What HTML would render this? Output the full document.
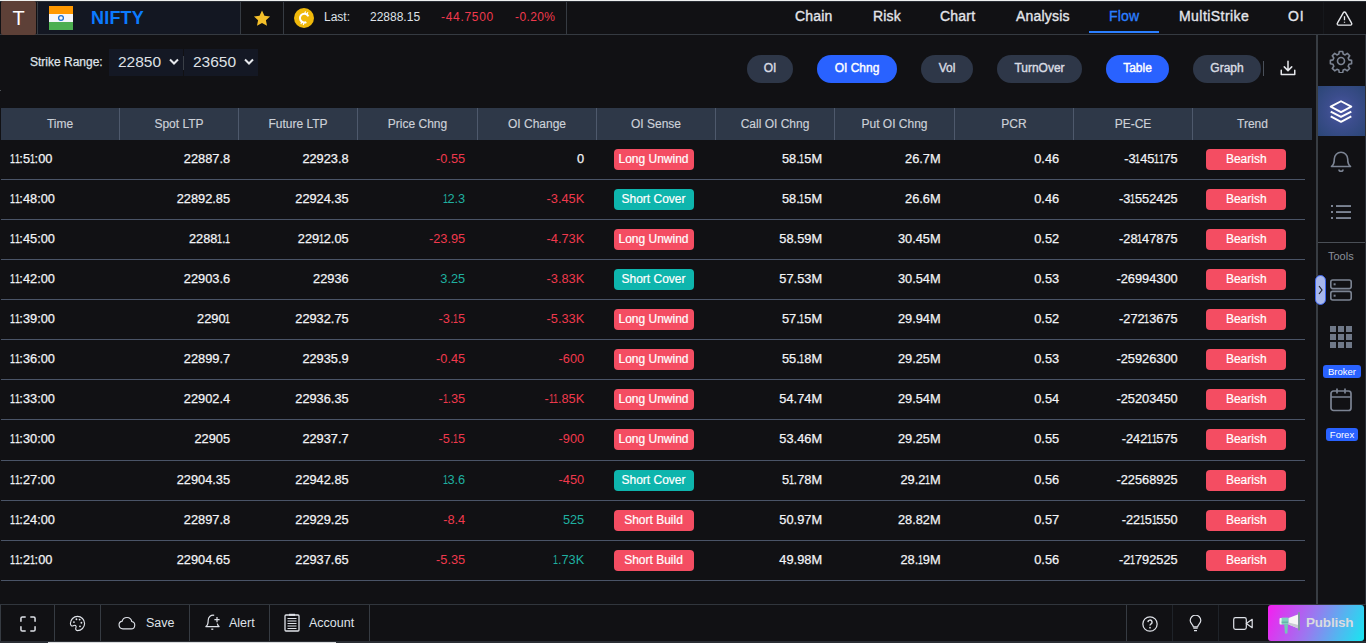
<!DOCTYPE html>
<html><head><meta charset="utf-8">
<style>
*{box-sizing:border-box;margin:0;padding:0}
html,body{width:1366px;height:643px;overflow:hidden;background:#111114;font-family:"Liberation Sans",sans-serif;color:#e1e3e8}
.a{position:absolute}
/* header */
#topline{left:0;top:0;width:1366px;height:1px;background:#eef0ef}
#hdr{left:0;top:1px;width:1366px;height:34px;background:#111114;border-top:1px solid #2a2e35;border-bottom:1px solid #353a41}
.hb{position:absolute;top:1px;height:32px}
#tbox{left:1px;top:0px;width:35px;height:34px;background:#5d4037;border-radius:2px;color:#fff;font-size:20px;text-align:center;line-height:34px}
.vd{position:absolute;width:1px;background:#363b42}
#nifty{left:38px;width:202px;background:#131722}
#flag{left:49px;top:6px;width:24px;height:24px}
#niftyt{left:91px;top:8px;font-size:18px;font-weight:700;color:#0b7bff;letter-spacing:0.2px}
#star{left:241px;width:42px;background:#111114}
#last{left:284px;width:282px;background:#111114}
.lt{position:absolute;top:10px;font-size:12px;line-height:14px}
.nav{position:absolute;top:7.5px;font-size:14px;font-weight:400;color:#e3e5ea;line-height:16px;-webkit-text-stroke:0.35px currentColor;letter-spacing:0.2px}
#flowul{left:1089px;top:31px;width:70px;height:2px;background:#2b7fff}
/* strike */
.sel{position:absolute;top:49px;height:27px;background:#141824}
.selt{position:absolute;top:54px;font-size:15.5px;color:#dfe1e6;line-height:16px}
/* pills */
.pill{position:absolute;top:55px;height:28px;border-radius:14px;background:#2e3748;color:#d8dbe2;font-size:12px;font-weight:400;text-align:center;line-height:27px;-webkit-text-stroke:0.4px currentColor}
.pill.on{background:#2962ff;color:#fff}
/* table */
#thead{left:1px;top:108px;width:1311px;height:32px;background:#2e3848}
.th{position:absolute;top:0;height:32px;line-height:32px;text-align:center;font-size:12px;color:#cdd1d8;border-right:1px solid #4e596c;-webkit-text-stroke:0.15px currentColor}
.row{position:absolute;left:1px;width:1304px;border-bottom:1px solid #4a5467}
.c{position:absolute;top:0;width:118.55px;height:100%;text-align:right;padding-right:9px;font-size:12.8px;line-height:38px;color:#f2f3f6;-webkit-text-stroke:0.25px currentColor}
.c i{font-style:normal;display:inline-block;margin:0 -1.3px;transform:scaleX(0.7)}
.c.p{padding-right:9.8px}
.c.tl{text-align:left;padding-left:8.3px;padding-right:0}
.c.r{color:#f0394d;-webkit-text-stroke:0}
.c.g{color:#1fb0a0;-webkit-text-stroke:0}
.c.bc{text-align:center;padding:0}
.bdg{position:absolute;left:50%;margin-left:-40.5px;top:9px;width:80px;height:21px;line-height:21px;border-radius:4px;font-size:12px;color:#fff;text-align:center;-webkit-text-stroke:0.2px #fff}
.bg-r{background:#f44d62}
.bg-g{background:#0eb5ad}
/* sidebar */
#sb{left:1316px;top:35px;width:50px;height:569px;border-left:2px solid #383d43;background:#111114}
.sic{position:absolute}
/* bottom */
#bot{left:0;top:604px;width:1366px;height:39px;border-top:1px solid #31363d;background:#111114}
.bb{position:absolute;top:605px;height:36px;background:#111114}
.bt{position:absolute;top:614.5px;font-size:12.5px;color:#dfe2e8;line-height:16px}
#pub{left:1268px;top:605px;width:96px;height:36px;border-radius:3px;background:linear-gradient(112deg,#f51ef0 0%,#9a78f0 45%,#50b8f0 75%,#18e6f0 100%)}
</style></head><body>
<div id="topline" class="a"></div>
<div class="a" style="left:0;top:90px;width:1px;height:1px;background:#505358"></div>
<div id="hdr" class="a"></div>
<div id="tbox" class="a" style="top:1px">T</div>
<div class="vd" style="left:37px;top:2px;height:32px"></div>
<div id="nifty" class="hb" style="top:2px"></div>
<svg id="flag" class="a" viewBox="0 0 24 24"><rect x="0" y="0" width="24" height="8" fill="#ff9800"/><rect x="0" y="8" width="24" height="8" fill="#f5f6fa"/><rect x="0" y="16" width="24" height="8" fill="#4caf50"/><circle cx="12" cy="12" r="2.4" fill="none" stroke="#1e6fd0" stroke-width="1.3"/></svg>
<div id="niftyt" class="a">NIFTY</div>
<div class="vd" style="left:240px;top:2px;height:32px"></div>
<svg class="a" style="left:253px;top:10px" width="18" height="17" viewBox="0 0 24 23"><path d="M12 0.8l3.3 7 7.6.9-5.6 5.2 1.5 7.5L12 17.6l-6.8 3.8 1.5-7.5L1.1 8.7l7.6-.9z" fill="#f5c02a"/></svg>
<div class="vd" style="left:283px;top:2px;height:32px"></div>
<svg class="a" style="left:294px;top:8px" width="20" height="20" viewBox="0 0 20 20"><circle cx="10" cy="10" r="10" fill="#f0b90b"/><g transform="rotate(20 10 10)"><path d="M13.6 7a4.4 4.4 0 1 0 0 6" fill="none" stroke="#fff" stroke-width="2"/><path d="M9.2 3.2v2.6M11.6 3.2v2.6M9.2 14.2v2.6M11.6 14.2v2.6" stroke="#fff" stroke-width="1.2"/></g></svg>
<div class="lt" style="left:324px;color:#dfe2e8">Last:</div>
<div class="lt" style="left:370px;color:#dfe2e8">22888.15</div>
<div class="lt" style="left:441px;color:#f0394d;letter-spacing:0.7px">-44.7500</div>
<div class="lt" style="left:515px;color:#f0394d;letter-spacing:0.4px">-0.20%</div>
<div class="vd" style="left:566px;top:2px;height:32px"></div>
<div class="nav" style="left:795px">Chain</div>
<div class="nav" style="left:873px">Risk</div>
<div class="nav" style="left:940px">Chart</div>
<div class="nav" style="left:1016px">Analysis</div>
<div class="nav" style="left:1109px;color:#2b7fff">Flow</div>
<div class="nav" style="left:1179px;letter-spacing:0.45px">MultiStrike</div>
<div class="nav" style="left:1288px;letter-spacing:0.9px">OI</div>
<div id="flowul" class="a"></div>
<div class="vd" style="left:1323px;top:2px;height:32px;background:#16181c"></div>
<svg class="a" style="left:1336px;top:10px" width="17" height="17" viewBox="0 0 17 17"><path d="M7.4 2.6a1.25 1.25 0 0 1 2.2 0l6 10.6a1.25 1.25 0 0 1-1.1 1.9h-12a1.25 1.25 0 0 1-1.1-1.9z" fill="none" stroke="#e6e8ec" stroke-width="1.4" stroke-linejoin="round"/><path d="M8.5 6.3v4M8.5 11.8v1" stroke="#e6e8ec" stroke-width="1.3"/></svg>

<!-- strike range -->
<div class="a" style="left:30px;top:55px;font-size:12px;color:#dfe2e8;line-height:14px;-webkit-text-stroke:0.25px currentColor">Strike Range:</div>
<div class="sel" style="left:109px;width:74px"></div>
<div class="selt" style="left:118px">22850</div>
<svg class="a" style="left:169px;top:58px" width="10" height="8" viewBox="0 0 10 8"><path d="M1 1.5l4 4 4-4" fill="none" stroke="#e6e8ec" stroke-width="2"/></svg>
<div class="a" style="left:183px;top:56px;width:1px;height:14px;background:#3a3f47"></div>
<div class="sel" style="left:184px;width:74px"></div>
<div class="selt" style="left:193px">23650</div>
<svg class="a" style="left:244px;top:58px" width="10" height="8" viewBox="0 0 10 8"><path d="M1 1.5l4 4 4-4" fill="none" stroke="#e6e8ec" stroke-width="2"/></svg>

<!-- pills -->
<div class="pill" style="left:747px;width:46px">OI</div>
<div class="pill on" style="left:817px;width:80px">OI Chng</div>
<div class="pill" style="left:921px;width:52px">Vol</div>
<div class="pill" style="left:997px;width:85px">TurnOver</div>
<div class="pill on" style="left:1106px;width:63px">Table</div>
<div class="pill" style="left:1193px;width:68px">Graph</div>
<div class="a" style="left:1263px;top:61px;width:1px;height:15px;background:#4a505a"></div>
<svg class="a" style="left:1279px;top:59px" width="18" height="18" viewBox="0 0 24 24"><path d="M12 3v12M7 10.5l5 5 5-5M3 15v5.5h18V15" fill="none" stroke="#e6e8ec" stroke-width="2" stroke-linecap="round" stroke-linejoin="round"/></svg>

<!-- table header -->
<div id="thead" class="a">
<div class="th" style="left:0;width:119px">Time</div>
<div class="th" style="left:119px;width:119px">Spot LTP</div>
<div class="th" style="left:238px;width:119px">Future LTP</div>
<div class="th" style="left:357px;width:120px">Price Chng</div>
<div class="th" style="left:477px;width:119px">OI Change</div>
<div class="th" style="left:596px;width:119px">OI Sense</div>
<div class="th" style="left:715px;width:119px">Call OI Chng</div>
<div class="th" style="left:834px;width:120px">Put OI Chng</div>
<div class="th" style="left:954px;width:119px">PCR</div>
<div class="th" style="left:1073px;width:119px">PE-CE</div>
<div class="th" style="left:1192px;width:119px;border-right:0">Trend</div>
</div>
<div class="row" style="top:140px;height:40px"><div class="c tl" style="left:1px"><i>1</i><i>1</i>:5<i>1</i>:00</div><div class="c " style="left:119.55px">22887.8</div><div class="c " style="left:238.10px">22923.8</div><div class="c r" style="left:354.65px">-0.55</div><div class="c w" style="left:473.70px">0</div><div class="c bc" style="left:593.75px"><span class="bdg bg-r">Long Unwind</span></div><div class="c p" style="left:712.30px">58.<i>1</i>5M</div><div class="c p" style="left:830.85px">26.7M</div><div class="c p" style="left:949.40px">0.46</div><div class="c p" style="left:1067.95px">-3<i>1</i>45<i>1</i><i>1</i>75</div><div class="c bc" style="left:1186.50px"><span class="bdg bg-r">Bearish</span></div></div>
<div class="row" style="top:180px;height:40px"><div class="c tl" style="left:1px"><i>1</i><i>1</i>:48:00</div><div class="c " style="left:119.55px">22892.85</div><div class="c " style="left:238.10px">22924.35</div><div class="c g" style="left:354.65px"><i>1</i>2.3</div><div class="c r" style="left:473.70px">-3.45K</div><div class="c bc" style="left:593.75px"><span class="bdg bg-g">Short Cover</span></div><div class="c p" style="left:712.30px">58.<i>1</i>5M</div><div class="c p" style="left:830.85px">26.6M</div><div class="c p" style="left:949.40px">0.46</div><div class="c p" style="left:1067.95px">-3<i>1</i>552425</div><div class="c bc" style="left:1186.50px"><span class="bdg bg-r">Bearish</span></div></div>
<div class="row" style="top:220px;height:40px"><div class="c tl" style="left:1px"><i>1</i><i>1</i>:45:00</div><div class="c " style="left:119.55px">2288<i>1</i>.<i>1</i></div><div class="c " style="left:238.10px">229<i>1</i>2.05</div><div class="c r" style="left:354.65px">-23.95</div><div class="c r" style="left:473.70px">-4.73K</div><div class="c bc" style="left:593.75px"><span class="bdg bg-r">Long Unwind</span></div><div class="c p" style="left:712.30px">58.59M</div><div class="c p" style="left:830.85px">30.45M</div><div class="c p" style="left:949.40px">0.52</div><div class="c p" style="left:1067.95px">-28<i>1</i>47875</div><div class="c bc" style="left:1186.50px"><span class="bdg bg-r">Bearish</span></div></div>
<div class="row" style="top:260px;height:40px"><div class="c tl" style="left:1px"><i>1</i><i>1</i>:42:00</div><div class="c " style="left:119.55px">22903.6</div><div class="c " style="left:238.10px">22936</div><div class="c g" style="left:354.65px">3.25</div><div class="c r" style="left:473.70px">-3.83K</div><div class="c bc" style="left:593.75px"><span class="bdg bg-g">Short Cover</span></div><div class="c p" style="left:712.30px">57.53M</div><div class="c p" style="left:830.85px">30.54M</div><div class="c p" style="left:949.40px">0.53</div><div class="c p" style="left:1067.95px">-26994300</div><div class="c bc" style="left:1186.50px"><span class="bdg bg-r">Bearish</span></div></div>
<div class="row" style="top:300px;height:40px"><div class="c tl" style="left:1px"><i>1</i><i>1</i>:39:00</div><div class="c " style="left:119.55px">2290<i>1</i></div><div class="c " style="left:238.10px">22932.75</div><div class="c r" style="left:354.65px">-3.<i>1</i>5</div><div class="c r" style="left:473.70px">-5.33K</div><div class="c bc" style="left:593.75px"><span class="bdg bg-r">Long Unwind</span></div><div class="c p" style="left:712.30px">57.<i>1</i>5M</div><div class="c p" style="left:830.85px">29.94M</div><div class="c p" style="left:949.40px">0.52</div><div class="c p" style="left:1067.95px">-272<i>1</i>3675</div><div class="c bc" style="left:1186.50px"><span class="bdg bg-r">Bearish</span></div></div>
<div class="row" style="top:340px;height:40px"><div class="c tl" style="left:1px"><i>1</i><i>1</i>:36:00</div><div class="c " style="left:119.55px">22899.7</div><div class="c " style="left:238.10px">22935.9</div><div class="c r" style="left:354.65px">-0.45</div><div class="c r" style="left:473.70px">-600</div><div class="c bc" style="left:593.75px"><span class="bdg bg-r">Long Unwind</span></div><div class="c p" style="left:712.30px">55.<i>1</i>8M</div><div class="c p" style="left:830.85px">29.25M</div><div class="c p" style="left:949.40px">0.53</div><div class="c p" style="left:1067.95px">-25926300</div><div class="c bc" style="left:1186.50px"><span class="bdg bg-r">Bearish</span></div></div>
<div class="row" style="top:380px;height:40px"><div class="c tl" style="left:1px"><i>1</i><i>1</i>:33:00</div><div class="c " style="left:119.55px">22902.4</div><div class="c " style="left:238.10px">22936.35</div><div class="c r" style="left:354.65px">-<i>1</i>.35</div><div class="c r" style="left:473.70px">-<i>1</i><i>1</i>.85K</div><div class="c bc" style="left:593.75px"><span class="bdg bg-r">Long Unwind</span></div><div class="c p" style="left:712.30px">54.74M</div><div class="c p" style="left:830.85px">29.54M</div><div class="c p" style="left:949.40px">0.54</div><div class="c p" style="left:1067.95px">-25203450</div><div class="c bc" style="left:1186.50px"><span class="bdg bg-r">Bearish</span></div></div>
<div class="row" style="top:420px;height:41px"><div class="c tl" style="left:1px"><i>1</i><i>1</i>:30:00</div><div class="c " style="left:119.55px">22905</div><div class="c " style="left:238.10px">22937.7</div><div class="c r" style="left:354.65px">-5.<i>1</i>5</div><div class="c r" style="left:473.70px">-900</div><div class="c bc" style="left:593.75px"><span class="bdg bg-r">Long Unwind</span></div><div class="c p" style="left:712.30px">53.46M</div><div class="c p" style="left:830.85px">29.25M</div><div class="c p" style="left:949.40px">0.55</div><div class="c p" style="left:1067.95px">-242<i>1</i><i>1</i>575</div><div class="c bc" style="left:1186.50px"><span class="bdg bg-r">Bearish</span></div></div>
<div class="row" style="top:461px;height:40px"><div class="c tl" style="left:1px"><i>1</i><i>1</i>:27:00</div><div class="c " style="left:119.55px">22904.35</div><div class="c " style="left:238.10px">22942.85</div><div class="c g" style="left:354.65px"><i>1</i>3.6</div><div class="c r" style="left:473.70px">-450</div><div class="c bc" style="left:593.75px"><span class="bdg bg-g">Short Cover</span></div><div class="c p" style="left:712.30px">5<i>1</i>.78M</div><div class="c p" style="left:830.85px">29.2<i>1</i>M</div><div class="c p" style="left:949.40px">0.56</div><div class="c p" style="left:1067.95px">-22568925</div><div class="c bc" style="left:1186.50px"><span class="bdg bg-r">Bearish</span></div></div>
<div class="row" style="top:501px;height:40px"><div class="c tl" style="left:1px"><i>1</i><i>1</i>:24:00</div><div class="c " style="left:119.55px">22897.8</div><div class="c " style="left:238.10px">22929.25</div><div class="c r" style="left:354.65px">-8.4</div><div class="c g" style="left:473.70px">525</div><div class="c bc" style="left:593.75px"><span class="bdg bg-r">Short Build</span></div><div class="c p" style="left:712.30px">50.97M</div><div class="c p" style="left:830.85px">28.82M</div><div class="c p" style="left:949.40px">0.57</div><div class="c p" style="left:1067.95px">-22<i>1</i>5<i>1</i>550</div><div class="c bc" style="left:1186.50px"><span class="bdg bg-r">Bearish</span></div></div>
<div class="row" style="top:541px;height:40px"><div class="c tl" style="left:1px"><i>1</i><i>1</i>:2<i>1</i>:00</div><div class="c " style="left:119.55px">22904.65</div><div class="c " style="left:238.10px">22937.65</div><div class="c r" style="left:354.65px">-5.35</div><div class="c g" style="left:473.70px"><i>1</i>.73K</div><div class="c bc" style="left:593.75px"><span class="bdg bg-r">Short Build</span></div><div class="c p" style="left:712.30px">49.98M</div><div class="c p" style="left:830.85px">28.<i>1</i>9M</div><div class="c p" style="left:949.40px">0.56</div><div class="c p" style="left:1067.95px">-2<i>1</i>792525</div><div class="c bc" style="left:1186.50px"><span class="bdg bg-r">Bearish</span></div></div>

<!-- sidebar -->
<div id="sb" class="a"></div>
<svg class="a" style="left:1329px;top:49px" width="24" height="24" viewBox="0 0 24 24"><path d="M12 8.5a3.5 3.5 0 1 0 0 7 3.5 3.5 0 0 0 0-7z" fill="none" stroke="#7c8493" stroke-width="1.6"/><path d="M10.3 2.5h3.4l.5 2.6 1.9.8 2.2-1.5 2.4 2.4-1.5 2.2.8 1.9 2.6.5v3.4l-2.6.5-.8 1.9 1.5 2.2-2.4 2.4-2.2-1.5-1.9.8-.5 2.6h-3.4l-.5-2.6-1.9-.8-2.2 1.5-2.4-2.4 1.5-2.2-.8-1.9-2.6-.5v-3.4l2.6-.5.8-1.9-1.5-2.2 2.4-2.4 2.2 1.5 1.9-.8z" fill="none" stroke="#7c8493" stroke-width="1.6" stroke-linejoin="round"/></svg>
<div class="a" style="left:1318px;top:86px;width:47px;height:50px;background:radial-gradient(ellipse at 50% 50%,#4d59a8 0%,#3b4d8c 45%,#2b4676 100%)"></div>
<svg class="a" style="left:1328px;top:98px" width="26" height="26" viewBox="0 0 24 24"><path d="M12 3L2.5 8 12 13l9.5-5z" fill="none" stroke="#fff" stroke-width="1.8" stroke-linejoin="round"/><path d="M2.5 12.5L12 17.5l9.5-5M2.5 17L12 22l9.5-5" fill="none" stroke="#fff" stroke-width="1.8" stroke-linejoin="round"/></svg>
<svg class="a" style="left:1330px;top:149px" width="22" height="24" viewBox="0 0 22 24"><path d="M1.5 17.5c1.8-1.2 2.8-2.6 2.8-7.5a6.7 6.7 0 0 1 13.4 0c0 4.9 1 6.3 2.8 7.5z" fill="none" stroke="#7c8493" stroke-width="1.6" stroke-linejoin="round"/><path d="M9 20.5a2 1.8 0 0 0 4 0" fill="none" stroke="#7c8493" stroke-width="1.6"/></svg>
<svg class="a" style="left:1330px;top:203px" width="22" height="17" viewBox="0 0 22 17"><rect x="1" y="2" width="2" height="2" fill="#7c8493"/><rect x="1" y="8" width="2" height="2" fill="#7c8493"/><rect x="1" y="14" width="2" height="2" fill="#7c8493"/><rect x="6" y="2.1" width="15" height="1.9" fill="#7c8493"/><rect x="6" y="8.1" width="15" height="1.9" fill="#7c8493"/><rect x="6" y="14.1" width="15" height="1.9" fill="#7c8493"/></svg>
<div class="a" style="left:1318px;top:242px;width:48px;height:1px;background:#4a4f56"></div>
<div class="a" style="left:1328px;top:250px;font-size:11px;color:#8a909a;line-height:12px">Tools</div>
<div class="a" style="left:1315px;top:275px;width:11px;height:30px;border-radius:5.5px;background:#a8b8ec;border:1.5px solid #3f66ee"></div>
<svg class="a" style="left:1317px;top:285px" width="7" height="10" viewBox="0 0 7 10"><path d="M2 1l3 4-3 4" fill="none" stroke="#222" stroke-width="1.2"/></svg>
<svg class="a" style="left:1329px;top:278px" width="24" height="24" viewBox="0 0 24 24"><rect x="1.8" y="2" width="20.4" height="8.6" rx="2" fill="none" stroke="#7c8493" stroke-width="1.6"/><rect x="1.8" y="13.4" width="20.4" height="8.6" rx="2" fill="none" stroke="#7c8493" stroke-width="1.6"/><rect x="4.6" y="5.3" width="2" height="2" fill="#7c8493"/><rect x="4.6" y="16.7" width="2" height="2" fill="#7c8493"/></svg>
<svg class="a" style="left:1330px;top:326px" width="22" height="22" viewBox="0 0 22 22"><g fill="#6f7888"><rect x="0" y="0" width="6" height="6"/><rect x="8" y="0" width="6" height="6"/><rect x="16" y="0" width="6" height="6"/><rect x="0" y="8" width="6" height="6"/><rect x="8" y="8" width="6" height="6"/><rect x="16" y="8" width="6" height="6"/><rect x="0" y="16" width="6" height="6"/><rect x="8" y="16" width="6" height="6"/><rect x="16" y="16" width="6" height="6"/></g></svg>
<div class="a" style="left:1323px;top:365px;width:38px;height:13px;border-radius:3px;background:#2962ff;color:#fff;font-size:9.5px;line-height:13px;text-align:center">Broker</div>
<svg class="a" style="left:1329px;top:387px" width="24" height="25" viewBox="0 0 24 25"><rect x="2" y="4" width="20" height="19.5" rx="2.5" fill="none" stroke="#7c8493" stroke-width="1.7"/><path d="M2 10h20M8 1.5v5M16 1.5v5" fill="none" stroke="#7c8493" stroke-width="1.7"/></svg>
<div class="a" style="left:1326px;top:428px;width:32px;height:13px;border-radius:3px;background:#2962ff;color:#fff;font-size:9.5px;line-height:13px;text-align:center">Forex</div>

<div class="a" style="left:1365px;top:35px;width:1px;height:608px;background:#2c3037"></div>
<!-- bottom -->
<div id="bot" class="a"></div>
<div class="a" style="left:0;top:604px;width:1366px;height:1px;background:#31363d"></div>
<div class="vd" style="left:0px;top:605px;height:36px"></div>
<div class="vd" style="left:54px;top:605px;height:36px"></div>
<div class="vd" style="left:100px;top:605px;height:36px"></div>
<div class="vd" style="left:189px;top:605px;height:36px"></div>
<div class="vd" style="left:269px;top:605px;height:36px"></div>
<div class="vd" style="left:369px;top:605px;height:36px"></div>
<div class="vd" style="left:1126px;top:605px;height:36px"></div>
<div class="vd" style="left:1172px;top:605px;height:36px;background:#1f2329"></div>
<div class="vd" style="left:1218px;top:605px;height:36px;background:#1f2329"></div>
<div class="a" style="left:0;top:641px;width:1366px;height:2px;background:#2a2e34"></div>
<div class="a" style="left:48px;top:642px;width:288px;height:1px;background:#d9dbdd"></div>
<svg class="a" style="left:19.5px;top:615.5px" width="16" height="16" viewBox="0 0 17 17"><path d="M1 5.5V2.5A1.5 1.5 0 0 1 2.5 1h3M11.5 1h3A1.5 1.5 0 0 1 16 2.5v3M16 11.5v3a1.5 1.5 0 0 1-1.5 1.5h-3M5.5 16h-3A1.5 1.5 0 0 1 1 14.5v-3" fill="none" stroke="#dfe2e8" stroke-width="1.6" stroke-linecap="round"/></svg>
<svg class="a" style="left:69px;top:615px" width="17" height="17" viewBox="0 0 24 24"><path d="M12 2C6.5 2 2 6.5 2 12c0 3 2.2 4.2 4 3.2 1.6-.9 3.2-1.2 3.9.3.8 1.6-.9 2.8-.4 4.6.4 1.4 1.6 1.9 2.5 1.9 5.5 0 10-4.5 10-10S17.5 2 12 2z" fill="none" stroke="#dfe2e8" stroke-width="1.6"/><circle cx="7" cy="10" r="1.3" fill="#dfe2e8"/><circle cx="10.5" cy="6" r="1.3" fill="#dfe2e8"/><circle cx="15" cy="6.5" r="1.3" fill="#dfe2e8"/><circle cx="17.5" cy="11" r="1.3" fill="#dfe2e8"/><circle cx="15.5" cy="16" r="1.3" fill="#dfe2e8"/></svg>
<svg class="a" style="left:118px;top:615px" width="18" height="15" viewBox="0 0 24 20"><path d="M6.5 18.5h11a5 5 0 0 0 .8-9.9A6.5 6.5 0 0 0 5.6 8.2 5.2 5.2 0 0 0 6.5 18.5z" fill="none" stroke="#dfe2e8" stroke-width="1.5"/></svg>
<div class="bt" style="left:146px">Save</div>
<svg class="a" style="left:205px;top:614px" width="16" height="17" viewBox="0 0 16 17"><path d="M9.2 1.3A5 5 0 0 0 3.2 6.2c0 3.8-.9 5.4-2.3 6.4h13.2c-.9-.6-1.5-1.5-1.8-3" fill="none" stroke="#dfe2e8" stroke-width="1.2" stroke-linejoin="round"/><path d="M6.3 15.2h2" stroke="#dfe2e8" stroke-width="1.3"/><path d="M12 3v5.2M9.4 5.6h5.2" stroke="#dfe2e8" stroke-width="1.2"/></svg>
<div class="bt" style="left:229px">Alert</div>
<svg class="a" style="left:284px;top:613px" width="16" height="19" viewBox="0 0 16 19"><rect x="1" y="2" width="14" height="16" rx="1" fill="none" stroke="#dfe2e8" stroke-width="1.3"/><rect x="5" y="0.8" width="6" height="2" fill="#dfe2e8"/><path d="M3.5 5.5h9M3.5 8h9M3.5 10.5h9M3.5 13h9M3.5 15.5h9" stroke="#dfe2e8" stroke-width="1"/></svg>
<div class="bt" style="left:309px">Account</div>
<svg class="a" style="left:1141.5px;top:615.5px" width="16" height="16" viewBox="0 0 17 17"><circle cx="8.5" cy="8.5" r="7.6" fill="none" stroke="#dfe2e8" stroke-width="1.3"/><path d="M6.3 6.5a2.2 2.2 0 1 1 3.2 2c-.7.4-1 .8-1 1.6" fill="none" stroke="#dfe2e8" stroke-width="1.5"/><circle cx="8.5" cy="12.4" r="0.9" fill="#dfe2e8"/></svg>
<svg class="a" style="left:1189px;top:615px" width="13" height="17" viewBox="0 0 13 17"><path d="M4.3 11.8c0-1.8-3.1-3.4-3.1-6.3a5.3 5.3 0 0 1 10.6 0c0 2.9-3.1 4.5-3.1 6.3z" fill="none" stroke="#dfe2e8" stroke-width="1.2" stroke-linejoin="round"/><path d="M4.3 13.2h4.4M5 15.6h3" stroke="#dfe2e8" stroke-width="1.2"/></svg>
<svg class="a" style="left:1233px;top:616.5px" width="20" height="13" viewBox="0 0 20 13"><rect x="0.7" y="0.7" width="12.6" height="11.6" rx="1.8" fill="none" stroke="#dfe2e8" stroke-width="1.2"/><path d="M13.3 6.5l5.9-4.2v8.4z" fill="none" stroke="#dfe2e8" stroke-width="1.2" stroke-linejoin="round"/></svg>
<div id="pub" class="a"></div>
<svg class="a" style="left:1278px;top:611px" width="24" height="24" viewBox="0 0 24 24"><rect x="1.5" y="7" width="3" height="6.5" rx="1" fill="#eef0f0"/><rect x="3.6" y="6.6" width="7" height="7" fill="#7fd2c2"/><rect x="3.6" y="10.6" width="7" height="1.2" fill="#5fb0a2"/><path d="M6.2 13.6h3.8l-.6 9h-2.4z" fill="#72c9b8"/><path d="M10.6 7L20.5 3.2v14.2L10.6 13.6z" fill="#f6f6f6"/><path d="M10.6 11.5L20.5 14v3.4L10.6 13.6z" fill="#c9cdd2"/><rect x="20" y="1" width="2" height="18.5" rx="0.8" fill="#7e9aa0"/></svg>
<div class="a" style="left:1306px;top:614px;font-size:13.5px;font-weight:700;color:#d9dbe0;line-height:16px;letter-spacing:-0.2px;margin-top:0.5px">Publish</div>
</body></html>
